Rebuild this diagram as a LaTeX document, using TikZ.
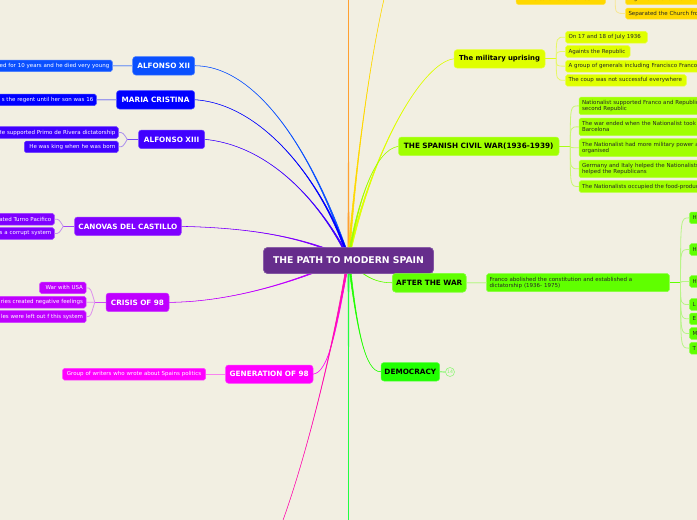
\documentclass[tikz,border=0pt]{standalone}
\usepackage{fontspec}
\setmainfont{DejaVu Sans}
\usetikzlibrary{calc}
\definecolor{bgc}{HTML}{F2EFE2}
\definecolor{cRoot}{HTML}{662D8C}
\definecolor{cAxii}{HTML}{0A50FF}
\definecolor{cMaria}{HTML}{0000FF}
\definecolor{cAxiii}{HTML}{4000FF}
\definecolor{cCan}{HTML}{7F00FF}
\definecolor{cCri}{HTML}{BF00FF}
\definecolor{cGen}{HTML}{FF00FF}
\definecolor{cPink}{HTML}{FF10B0}
\definecolor{cGreen}{HTML}{20FF40}
\definecolor{cOrange}{HTML}{FFA030}
\definecolor{cYel}{HTML}{FFD800}
\definecolor{cMil}{HTML}{DFFF00}
\definecolor{cCiv}{HTML}{A0FF00}
\definecolor{cAft}{HTML}{60FF00}
\definecolor{cDem}{HTML}{20FF00}
\newcommand{\bx}[8]{% style, name, x1, x2, y1, y2, align, text
  \pgfmathsetmacro\bxw{#4-#3}\pgfmathsetmacro\bxh{#6-#5}
  \pgfmathsetmacro\bxcx{(#3+#4)/2}\pgfmathsetmacro\bxcy{(#5+#6)/2}
  \pgfmathsetmacro\bxt{#4-#3-6}
  \node[#1,minimum width=\bxw pt,minimum height=\bxh pt,text width=\bxt pt,align=#7] (#2) at (\bxcx,\bxcy) {#8};}
\newcommand{\brn}[6]{% colour, start, c1, c2, end, half width vector
  \draw[draw=#1,fill=#1,line width=.55pt] #2 .. controls #3 and #4 .. ($#5+#6$) -- ($#5-#6$) .. controls #4 and #3 .. #2 -- cycle;}
\tikzset{
  mainbox/.style={draw=#1!75!white,fill=#1,rounded corners=3pt,line width=.5pt,inner xsep=3pt,inner ysep=0pt,font=\bfseries\fontsize{7.3}{8}\selectfont},
  subbox/.style={draw=#1!75!white,fill=#1,rounded corners=1.8pt,line width=.5pt,inner xsep=3pt,inner ysep=0pt,font=\fontsize{5.5}{6.1}\selectfont},
  white text/.style={text=white},
  dark text/.style={text=black!85},
  kidline/.style={line width=.8pt},
  straightkid/.style={line width=1.2pt},
  stub/.style={line width=1.2pt},
  rootbox/.style={mainbox=cRoot,white text,rounded corners=4pt,font=\bfseries\fontsize{9.3}{10}\selectfont}
}
\begin{document}
\begin{tikzpicture}[x=1pt,y=-1pt]
\useasboundingbox (0,0) rectangle (697,520);
\clip (0,0) rectangle (697,520);
\fill[bgc] (0,0) rectangle (697,520);
% free ends of the branches that leave the picture
\coordinate (topO) at (348.5,-3);
\coordinate (topY) at (384.5,-3);
\coordinate (botG) at (348.5,523);
\coordinate (botP) at (282,523);
\coordinate (ctr) at (348.5,258);
% main nodes
\bx{rootbox}{root}{263.5}{433.5}{247.5}{273.5}{center}{THE PATH TO MODERN SPAIN}
\bx{mainbox=cAxii,white text}{axii}{132.7}{194.7}{56.5}{75}{center}{ALFONSO XII}
\bx{mainbox=cMaria,white text}{maria}{116.5}{194.7}{90.5}{109}{center}{MARIA CRISTINA}
\bx{mainbox=cAxiii,white text}{axiii}{138.5}{204.7}{130}{148.7}{center}{ALFONSO XIII}
\bx{mainbox=cCan,white text}{can}{74.5}{181.3}{217}{235.7}{center}{CANOVAS DEL CASTILLO}
\bx{mainbox=cCri,white text}{cri}{106}{169}{293}{311.7}{center}{CRISIS OF 98}
\bx{mainbox=cGen,white text}{gen}{225.5}{313}{365}{383.3}{center}{GENERATION OF 98}
\bx{mainbox=cYel,dark text,font=\fontsize{5.5}{6}\selectfont}{const}{516}{605.7}{-7}{4.7}{center}{The constitution of 1931}
\bx{mainbox=cMil,text=black,font=\bfseries\fontsize{6.9}{8}\selectfont}{mil}{454}{545}{49.7}{68}{center}{\mbox{The military uprising}}
\bx{mainbox=cCiv,text=black}{civ}{398.5}{559}{137}{155.7}{center}{THE SPANISH CIVIL WAR(1936-1939)}
\bx{mainbox=cAft,text=black}{aft}{392.5}{466}{273.5}{292}{center}{AFTER THE WAR}
\bx{mainbox=cDem,text=black}{dem}{381}{439.7}{362.5}{381}{center}{DEMOCRACY}
% children, left side
\bx{subbox=cAxii,white text}{a1}{-20}{112.3}{60}{71.7}{right}{ed for 10 years and he died very young}
\bx{subbox=cMaria,white text}{m1}{-20}{96.3}{94}{105.7}{right}{s the regent until her son was 16}
\bx{subbox=cAxiii,white text}{x1}{-20}{118.3}{126.7}{138.3}{right}{He supported Primo de Rivera dictatorship}
\bx{subbox=cAxiii,white text}{x2}{24.3}{118.3}{141}{152.7}{right}{He was king when he was born}
\bx{subbox=cCan,white text}{c1}{-20}{54.3}{213.3}{225}{right}{ated Turno Pacifico}
\bx{subbox=cCan,white text}{c2}{-20}{54.3}{227.7}{239.3}{right}{s a corrupt system}
\bx{subbox=cCri,white text}{r1}{39.7}{86}{282}{293.7}{right}{War with USA}
\bx{subbox=cCri,white text}{r2}{-20}{86}{296.3}{308}{right}{ries created negative feelings}
\bx{subbox=cCri,white text}{r3}{-20}{86}{310.7}{322.7}{right}{les were left out f this system}
\bx{subbox=cGen,white text}{g1}{62.5}{205.7}{368.3}{380}{center}{Group of writers who wrote about Spains politics}
% children, right side
\bx{subbox=cYel,dark text}{y1}{625.5}{760}{-7}{4.7}{left}{Right to vote for women}
\bx{subbox=cYel,dark text}{y2}{625.5}{760}{8}{19}{left}{Separated the Church from}
\bx{subbox=cMil,dark text}{l1}{565.5}{647.3}{31.3}{43}{left}{On 17 and 18 of July 1936}
\bx{subbox=cMil,dark text}{l2}{565.5}{630}{45.7}{57.3}{left}{Againts the Republic}
\bx{subbox=cMil,dark text}{l3}{565.5}{760}{60.3}{72}{left}{A group of generals including Francisco Franco}
\bx{subbox=cMil,dark text}{l4}{565.5}{686.3}{74.7}{86}{left}{The coup was not successful everywhere}
\bx{subbox=cCiv,dark text}{w1}{579}{800}{97}{114.7}{left}{Nationalist supported Franco and Republic\\second Republic}
\bx{subbox=cCiv,dark text}{w2}{579}{800}{118}{135.7}{left}{The war ended when the Nationalist took\\Barcelona}
\bx{subbox=cCiv,dark text}{w3}{579}{800}{138.7}{156.7}{left}{The Nationalist had more military power and\\organised}
\bx{subbox=cCiv,dark text}{w4}{579}{800}{160}{177.7}{left}{Germany and Italy helped the Nationalists\\helped the Republicans}
\bx{subbox=cCiv,dark text}{w5}{579}{800}{180.7}{192.3}{left}{The Nationalists occupied the food-producing}
\bx{subbox=cAft,dark text}{fr}{486.5}{669.3}{273.7}{291.7}{left}{Franco abolished the constitution and established a\\dictatorship (1936- 1975)}
\bx{subbox=cAft,dark text}{h1}{689.5}{760}{212}{223.7}{left}{H}
\bx{subbox=cAft,dark text}{h2}{689.5}{760}{243.7}{255.3}{left}{H}
\bx{subbox=cAft,dark text}{h3}{689.5}{760}{275.7}{287.3}{left}{H}
\bx{subbox=cAft,dark text}{h4}{689.5}{760}{298.7}{310.4}{left}{L}
\bx{subbox=cAft,dark text}{h5}{689.5}{760}{313}{324.7}{left}{E}
\bx{subbox=cAft,dark text}{h6}{689.5}{760}{327.7}{339.4}{left}{M}
\bx{subbox=cAft,dark text}{h7}{689.5}{760}{342.3}{354}{left}{T}
\node[circle,draw=cDem!45!bgc,line width=.6pt,minimum size=9pt,inner sep=0pt,text=cDem!55!bgc,font=\fontsize{4.6}{5}\selectfont] (cnt) at (450,372) {14};
% connectors
\draw[straightkid,draw=cAxii!45!bgc] (axii.west) -- (a1.east);
\draw[straightkid,draw=cMaria!35!bgc] (maria.west) -- (m1.east);
\draw[straightkid,draw=cGen!45!bgc] (gen.west) -- (g1.east);
\draw[straightkid,draw=cAft!30!bgc] (aft.east) -- (fr.west);
\draw[straightkid,draw=cDem!45!bgc] (dem.east) -- (cnt.west);
\draw[stub,draw=cAxiii!70!bgc] (axiii.west) -- ++(-11,0) coordinate (jx);
\draw[stub,draw=cCan!70!bgc] (can.west) -- ++(-11,0) coordinate (jc);
\draw[stub,draw=cCri!70!bgc] (cri.west) -- ++(-11,0) coordinate (jr);
\draw[stub,draw=cMil!90!bgc] (mil.east) -- ++(11,0) coordinate (jl);
\draw[stub,draw=cCiv!90!bgc] (civ.east) -- ++(11,0) coordinate (jw);
\draw[stub,draw=cAft] (fr.east) -- ++(11,0) coordinate (jh);
\path (y1.west) ++(-10,0) coordinate (jy);
\foreach \k in {x1,x2} \draw[kidline,draw=cAxiii!40!bgc] (jx) .. controls ($(jx |- \k.east)!.5!(\k.east)$) .. (\k.east);
\foreach \k in {c1,c2} \draw[kidline,draw=cCan!40!bgc] (jc) .. controls ($(jc |- \k.east)!.5!(\k.east)$) .. (\k.east);
\foreach \k in {r1,r2,r3} \draw[kidline,draw=cCri!40!bgc] (jr) .. controls ($(jr |- \k.east)!.5!(\k.east)$) .. (\k.east);
\foreach \k in {l1,l2,l3,l4} \draw[kidline,draw=cMil!55!bgc] (jl) .. controls (jl |- \k.west) .. (\k.west);
\foreach \k in {w1,w2,w3,w4,w5} \draw[kidline,draw=cCiv!50!bgc] (jw) .. controls (jw |- \k.west) .. (\k.west);
\foreach \k in {h1,h2,h3,h4,h5,h6,h7} \draw[kidline,draw=cAft!40!bgc] (jh) .. controls (jh |- \k.west) .. (\k.west);
\draw[kidline,draw=cYel!35!bgc] (jy) .. controls (jy |- y2.west) .. (y2.west);
\draw[kidline,draw=cYel!35!bgc] (jy) -- (y1.west);
% main branches
\brn{cAxii}{(axii.east)}{(262,66)}{(318,165)}{(ctr)}{(1.1,0)}
\brn{cMaria}{(maria.east)}{(262,104)}{(322,180)}{(ctr)}{(1.1,0)}
\brn{cAxiii}{(axiii.east)}{(272,146)}{(322,205)}{(ctr)}{(1.1,0)}
\brn{cCan}{(can.east)}{(250,228)}{(300,236)}{(ctr)}{(0,1)}
\brn{cCri}{(cri.east)}{(225,302)}{(290,285)}{(ctr)}{(0,1)}
\brn{cGen}{(gen.east)}{(328,372)}{(336,335)}{(ctr)}{(1,0)}
\brn{cPink}{(botP)}{(312,440)}{(337,325)}{(ctr)}{(1.1,0)}
\brn{cGreen}{(botG)}{(348.5,450)}{(348.5,350)}{(ctr)}{(.7,0)}
\brn{cOrange}{(topO)}{(348.5,80)}{(348.5,160)}{(ctr)}{(.8,0)}
\brn{cYel}{(topY)}{(372,50)}{(357,150)}{(ctr)}{(1.1,0)}
\brn{cMil}{(mil.west)}{(425,62)}{(375,140)}{(ctr)}{(1,0)}
\brn{cCiv}{(civ.west)}{(375,150)}{(358,200)}{(ctr)}{(1,0)}
\brn{cAft}{(aft.west)}{(372,283)}{(358,272)}{(ctr)}{(0,1)}
\brn{cDem}{(dem.west)}{(365,372)}{(357,330)}{(ctr)}{(1,0)}
% central node and its neighbour again, above the branches
\bx{rootbox}{root}{263.5}{433.5}{247.5}{273.5}{center}{THE PATH TO MODERN SPAIN}
\bx{mainbox=cAft,text=black}{aft}{392.5}{466}{273.5}{292}{center}{AFTER THE WAR}
\end{tikzpicture}
\end{document}
